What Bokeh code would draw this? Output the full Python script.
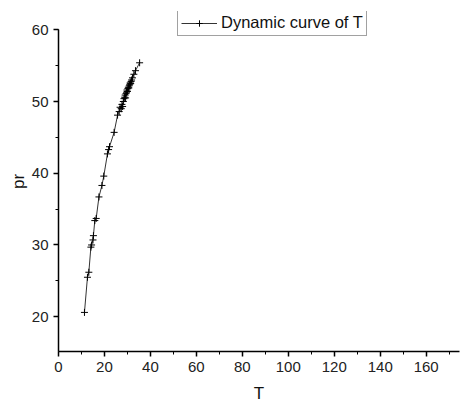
from bokeh.plotting import figure
from bokeh.models import Range1d, SingleIntervalTicker
from bokeh.embed import file_html
from bokeh.resources import INLINE

T = [11.3, 12.6, 13.2, 14.1, 14.4, 15.0, 15.2, 15.8, 16.4, 17.6, 18.9, 19.7, 21.3, 21.8,
     22.2, 24.2, 25.7, 26.4, 26.8, 27.3, 27.6, 27.9, 28.2, 28.5, 28.8, 29.0, 29.2, 29.4,
     29.6, 29.8, 30.0, 30.2, 30.4, 30.6, 30.8, 31.0, 31.2, 31.4, 31.6, 31.8, 32.2, 32.8,
     33.5, 35.3]
pr = [20.6, 25.5, 26.2, 29.7, 30.0, 30.7, 31.3, 33.4, 33.7, 36.7, 38.3, 39.6, 42.7, 43.3,
      43.7, 45.7, 48.1, 48.6, 49.2, 49.0, 49.6, 49.3, 50.0, 50.4, 50.6, 50.9, 50.5, 51.1,
      51.3, 51.6, 51.4, 51.8, 52.0, 51.9, 52.2, 52.4, 52.6, 52.5, 52.8, 53.0, 53.3, 53.8,
      54.3, 55.4]
series_label = "Dynamic curve of T"
x_title = "T"
y_title = "pr"
x_lim = (0, 174.5)
y_lim = (15.15, 60.0)

FONT = "Liberation Sans"

p = figure(width=462, height=405, output_backend="svg", toolbar_location=None,
           x_range=Range1d(*x_lim), y_range=Range1d(y_lim[0], 62.55),
           min_border_left=58, min_border_right=3, min_border_top=11, min_border_bottom=54)
p.outline_line_color = None
p.grid.visible = False
p.background_fill_color = "white"
p.border_fill_color = "white"

p.line(T, pr, line_color="#333333", line_width=1, legend_label=series_label)
p.scatter(T, pr, marker="cross", size=7, line_color="black", line_width=1, legend_label=series_label)

p.xaxis.ticker = SingleIntervalTicker(interval=20, num_minor_ticks=2)
p.yaxis.ticker = SingleIntervalTicker(interval=10, num_minor_ticks=2)
p.yaxis.bounds = y_lim

for ax in (p.xaxis[0], p.yaxis[0]):
    ax.axis_line_width = 1.5
    ax.axis_line_color = "black"
    ax.major_tick_line_color = "black"
    ax.major_tick_line_width = 1.5
    ax.major_tick_out = 5
    ax.major_tick_in = 0
    ax.minor_tick_line_color = "black"
    ax.minor_tick_line_width = 1
    ax.minor_tick_out = 3
    ax.minor_tick_in = 0
    ax.major_label_text_font = FONT
    ax.major_label_text_font_size = "15px"
    ax.major_label_text_color = "#222222"
    ax.axis_label_text_font = FONT
    ax.axis_label_text_font_size = "17px"
    ax.axis_label_text_font_style = "normal"
    ax.axis_label_text_color = "#111111"

p.xaxis.axis_label = x_title
p.yaxis.axis_label = y_title
p.xaxis.axis_label_standoff = 9
p.yaxis.axis_label_standoff = 1
p.xaxis.major_label_standoff = 5
p.yaxis.major_label_standoff = 5

lg = p.legend[0]
lg.location = (119, 315)
lg.label_text_font = FONT
lg.label_text_font_size = "16.5px"
lg.label_text_color = "#111111"
lg.glyph_width = 36
lg.glyph_height = 16
lg.label_standoff = 4
lg.padding = 3
lg.margin = 0
lg.spacing = 0
lg.border_line_color = "#444444"
lg.border_line_width = 1.5
lg.background_fill_color = "white"
lg.background_fill_alpha = 1.0

open("out.html", "w").write(file_html(p, INLINE))
